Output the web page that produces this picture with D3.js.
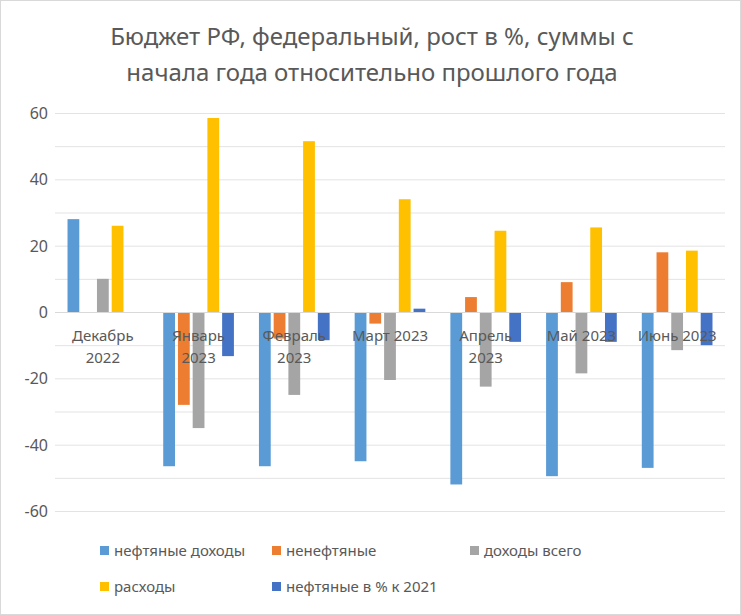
<!DOCTYPE html>
<html><head><meta charset="utf-8">
<script src="https://cdn.jsdelivr.net/npm/d3@7"></script>
<style>body{margin:0;background:#fff}text{font-family:"Noto Sans","Open Sans",sans-serif}</style>
</head><body>
<svg id="c" width="741" height="615"></svg>
<script>
var categories = ['Декабрь 2022', 'Январь 2023', 'Февраль 2023', 'Март 2023', 'Апрель 2023', 'Май 2023', 'Июнь 2023'];
var categoryLines = [['Декабрь', '2022'], ['Январь', '2023'], ['Февраль', '2023'], ['Март 2023'], ['Апрель', '2023'], ['Май 2023'], ['Июнь 2023']];
var seriesNames = ['нефтяные доходы', 'ненефтяные', 'доходы всего', 'расходы', 'нефтяные в % к 2021'];
var oilIncome = [28, -46.5, -46.5, -45, -52, -49.5, -47];
var nonOil = [null, -28, -8, -3.5, 4.5, 9, 18];
var totalIncome = [10, -35, -25, -20.5, -22.5, -18.5, -11.5];
var expenses = [26, 58.5, 51.5, 34, 24.5, 25.5, 18.5];
var oilPct2021 = [null, -13.3, -8.5, 1, -9, -9, -10];
var yTicks = [-60, -40, -20, 0, 20, 40, 60];
var colors = ['#5B9BD5', '#ED7D31', '#A5A5A5', '#FFC000', '#4472C4'];
var series = [oilIncome, nonOil, totalIncome, expenses, oilPct2021];

var svg = d3.select('#c');
svg.append('rect').attr('x', 0.5).attr('y', 0.5).attr('width', 740).attr('height', 614)
    .attr('fill', '#fff').attr('stroke', '#d9d9d9');

var title = svg.append('text').attr('text-anchor', 'middle').attr('fill', '#595959').attr('font-size', 24);
title.append('tspan').attr('x', 372).attr('y', 45).text('Бюджет РФ, федеральный, рост в %, суммы с');
title.append('tspan').attr('x', 372).attr('y', 81).text('начала года относительно прошлого года');

var x = d3.scaleBand().domain(categories).range([55, 725]);
var y = d3.scaleLinear().domain([-60, 60]).range([511, 113]);
var inner = d3.scaleBand().domain(d3.range(5)).range([0, x.bandwidth()]).paddingInner(0.2).paddingOuter(0.85);

// gridlines every 10
svg.append('g').selectAll('line').data(d3.range(-60, 61, 10)).join('line')
    .attr('x1', 55).attr('x2', 725).attr('y1', d => y(d) + 0.5).attr('y2', d => y(d) + 0.5)
    .attr('stroke', '#e3e3e3');

svg.append('g').selectAll('text').data(yTicks).join('text')
    .attr('x', 48).attr('y', d => y(d) + 6).attr('text-anchor', 'end')
    .attr('font-size', 16).attr('fill', '#595959').text(d => d);

series.forEach(function (vals, si) {
    svg.append('g').selectAll('rect').data(vals.map((v, i) => ({ v: v, c: categories[i] })).filter(d => d.v !== null))
        .join('rect')
        .attr('x', d => x(d.c) + inner(si))
        .attr('width', inner.bandwidth())
        .attr('y', d => y(Math.max(0, d.v)))
        .attr('height', d => Math.abs(y(d.v) - y(0)))
        .attr('fill', colors[si]);
});

svg.append('line').attr('x1', 55).attr('x2', 725).attr('y1', y(0) + 0.5).attr('y2', y(0) + 0.5).attr('stroke', '#d9d9d9');

var cl = svg.append('g').selectAll('text').data(categoryLines).join('text')
    .attr('text-anchor', 'middle').attr('font-size', 15).attr('fill', '#595959');
cl.each(function (lines, i) {
    var t = d3.select(this);
    lines.forEach(function (l, j) {
        t.append('tspan').attr('x', x(categories[i]) + x.bandwidth() / 2).attr('y', 341 + j * 22).text(l);
    });
});

var legendPos = [[100, 551], [272, 551], [470, 551], [100, 587], [272, 587]];
var lg = svg.append('g').selectAll('g').data(seriesNames).join('g')
    .attr('transform', (d, i) => 'translate(' + legendPos[i][0] + ',' + legendPos[i][1] + ')');
lg.append('rect').attr('x', 0).attr('y', -5).attr('width', 9).attr('height', 9).attr('fill', (d, i) => colors[i]);
lg.append('text').attr('x', 14).attr('y', 5).attr('font-size', 15).attr('fill', '#595959').text(d => d);
</script>
</body></html>
